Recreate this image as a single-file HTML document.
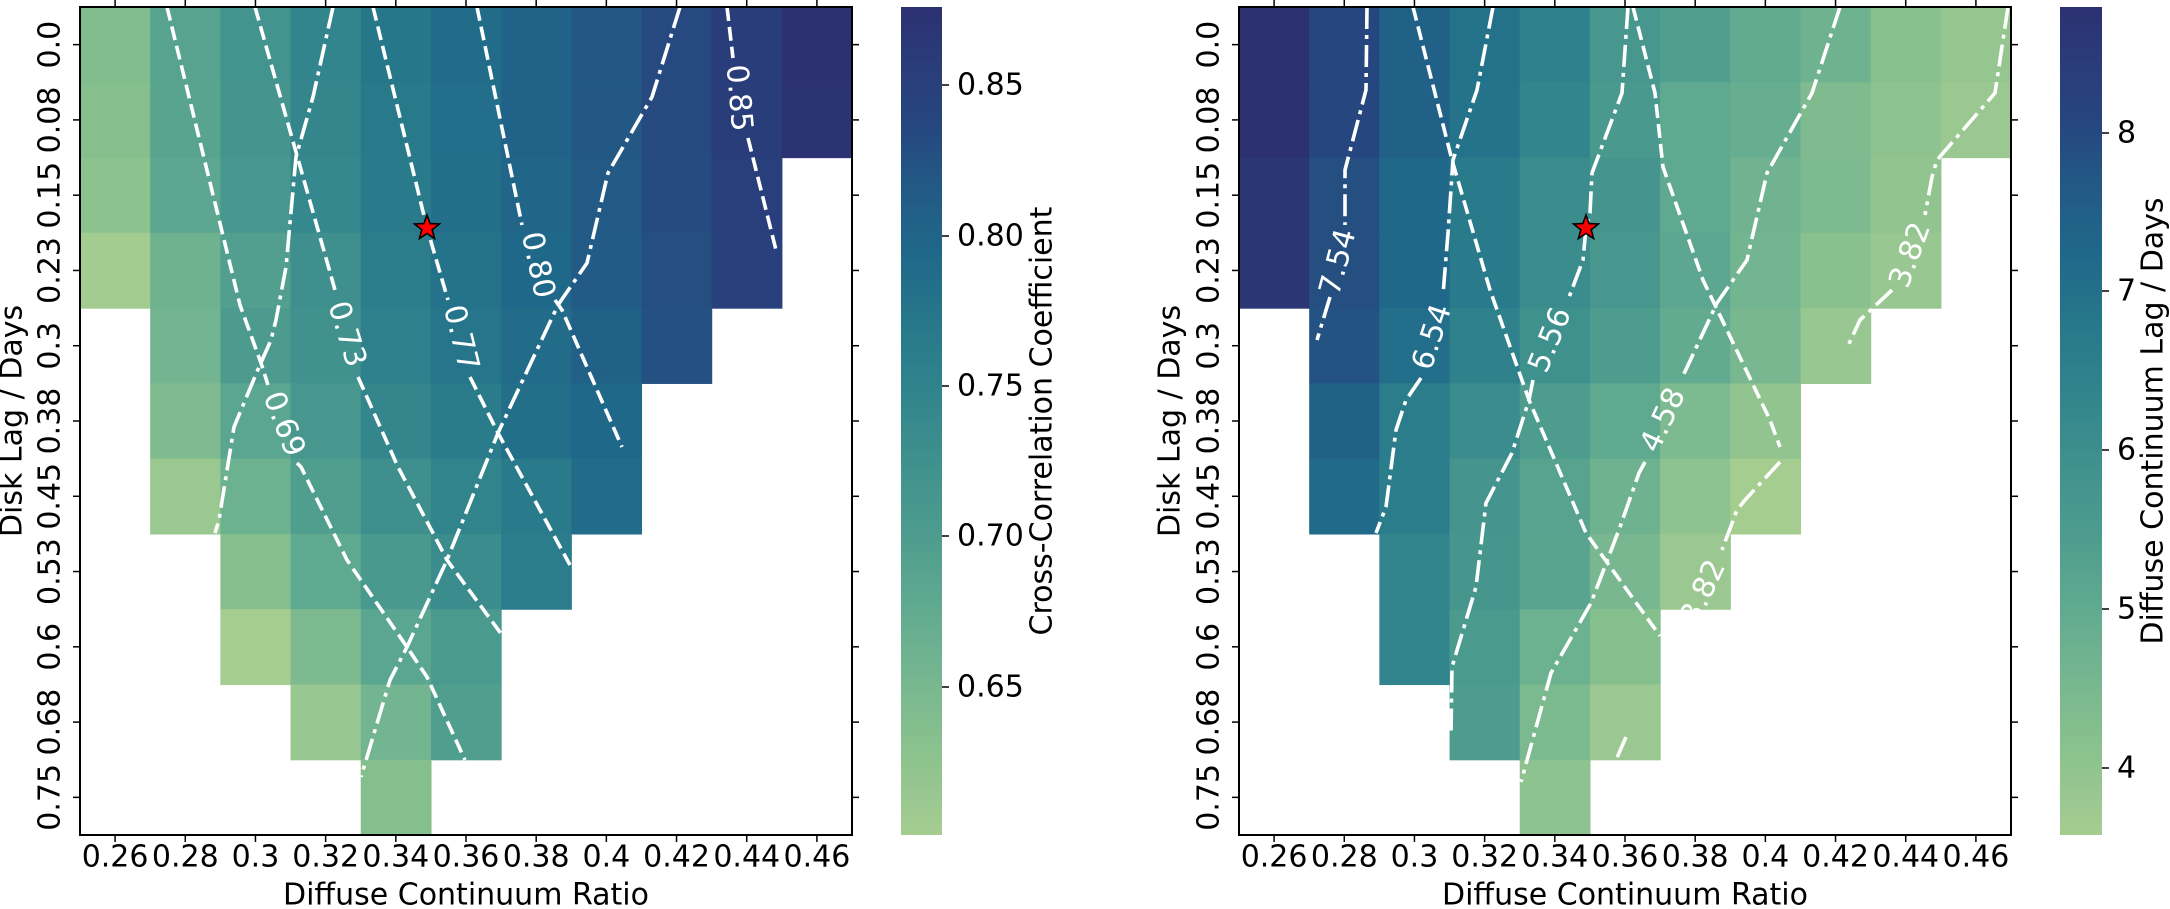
<!DOCTYPE html>
<html><head><meta charset="utf-8">
<style>
html,body{margin:0;padding:0;background:#fff;}
svg{display:block;}
text{font-family:"DejaVu Sans","Liberation Sans",sans-serif;}
</style></head>
<body>
<svg id="s" xmlns="http://www.w3.org/2000/svg" width="2170" height="909" viewBox="0 0 2170 909">
<defs>
<linearGradient id="cm" x1="0" y1="1" x2="0" y2="0">
<stop offset="0" stop-color="#a5cd90"/><stop offset="0.05" stop-color="#99c791"/>
<stop offset="0.1" stop-color="#8bc28e"/><stop offset="0.16" stop-color="#7dba8f"/>
<stop offset="0.22" stop-color="#6eb290"/><stop offset="0.28" stop-color="#5fa990"/>
<stop offset="0.36" stop-color="#4e9c8e"/><stop offset="0.42" stop-color="#45958e"/>
<stop offset="0.48" stop-color="#3a8c8d"/><stop offset="0.55" stop-color="#2f828c"/>
<stop offset="0.62" stop-color="#27778a"/><stop offset="0.7" stop-color="#20688a"/>
<stop offset="0.78" stop-color="#225a85"/><stop offset="0.86" stop-color="#26467f"/>
<stop offset="0.93" stop-color="#2a3c79"/><stop offset="1" stop-color="#2c3172"/>
</linearGradient>
</defs>
<g id="g"></g>
</svg>
<script>
(function(){
var stops=[[0,"#a5cd90"],[0.05,"#99c791"],[0.1,"#8bc28e"],[0.16,"#7dba8f"],[0.22,"#6eb290"],[0.28,"#5fa990"],[0.36,"#4e9c8e"],[0.42,"#45958e"],[0.48,"#3a8c8d"],[0.55,"#2f828c"],[0.62,"#27778a"],[0.7,"#20688a"],[0.78,"#225a85"],[0.86,"#26467f"],[0.93,"#2a3c79"],[1,"#2c3172"]];
function hx(h){return [parseInt(h.substr(1,2),16),parseInt(h.substr(3,2),16),parseInt(h.substr(5,2),16)];}
function cmap(t){t=Math.max(0,Math.min(1,t));for(var i=0;i<stops.length-1;i++){var a=stops[i],b=stops[i+1];if(t<=b[0]){var f=(t-a[0])/(b[0]-a[0]);var A=hx(a[1]),B=hx(b[1]);return "rgb("+A.map(function(v,k){return Math.round(v+(B[k]-v)*f);}).join(",")+")";}}return stops[stops.length-1][1];}
var L=[[.14,.32,.43,.53,.62,.68,.73,.79,.85,.92,1.0],
[.12,.31,.42,.52,.61,.67,.73,.79,.85,.92,.99],
[.10,.29,.40,.51,.60,.66,.72,.78,.84,.91,null],
[.01,.22,.34,.46,.58,.64,.70,.77,.83,.90,null],
[null,.20,.37,.44,.56,.63,.68,.74,.82,null,null],
[null,.15,.30,.40,.52,.59,.66,.70,null,null,null],
[null,.04,.23,.35,.46,.54,.60,.68,null,null,null],
[null,null,.12,.28,.39,.48,.58,null,null,null,null],
[null,null,0.0,.16,.30,.38,null,null,null,null,null],
[null,null,null,.05,.20,.35,null,null,null,null,null],
[null,null,null,null,.12,null,null,null,null,null,null]];
var R=[[1.0,.86,.74,.65,.55,.40,.35,.27,.22,.11,.06],
[1.0,.86,.74,.64,.53,.39,.28,.25,.15,.09,.04],
[.97,.83,.70,.60,.48,.42,.28,.21,.16,.08,null],
[.97,.83,.70,.60,.48,.40,.29,.20,.11,.05,null],
[null,.81,.67,.55,.45,.36,.27,.18,.05,null,null],
[null,.74,.58,.48,.36,.28,.16,.08,null,null,null],
[null,.69,.58,.42,.32,.22,.09,0.0,null,null,null],
[null,null,.54,.41,.31,.18,.04,null,null,null,null],
[null,null,.53,.38,.23,.12,null,null,null,null,null],
[null,null,null,.36,.17,.04,null,null,null,null,null],
[null,null,null,null,.09,null,null,null,null,null,null]];
var out=[];
var top=7,bot=835,rh=(bot-top)/11;
var xt=["0.26","0.28","0.3","0.32","0.34","0.36","0.38","0.4","0.42","0.44","0.46"];
var yt=["0.0","0.08","0.15","0.23","0.3","0.38","0.45","0.53","0.6","0.68","0.75"];
function panel(x0,x1,D){
 var cw=(x1-x0)/11;
 for(var r=0;r<11;r++)for(var c=0;c<11;c++){var v=D[r][c];if(v===null)continue;
  out.push('<rect x="'+(x0+c*cw).toFixed(2)+'" y="'+(top+r*rh).toFixed(2)+'" width="'+(cw+0.6).toFixed(2)+'" height="'+(rh+0.6).toFixed(2)+'" fill="'+cmap(v)+'"/>');}
 return cw;
}
function line(pts,dash){return '<polyline points="'+pts.map(function(p){return p.join(",");}).join(" ")+'" fill="none" stroke="#fff" stroke-width="3.6" stroke-dasharray="'+dash+'"/>';}
var DS="14,6",DD="22,6,4,6";
function lab(x,y,rot,t){return '<text x="'+x+'" y="'+y+'" fill="#fff" font-size="30" text-anchor="middle" dominant-baseline="central" transform="rotate('+rot+' '+x+' '+y+')">'+t+'</text>';}
function star(cx,cy){var p=[];for(var i=0;i<10;i++){var a=-Math.PI/2+i*Math.PI/5;var rr=i%2?5.5:13;p.push((cx+rr*Math.cos(a)).toFixed(1)+","+(cy+rr*Math.sin(a)).toFixed(1));}return '<polygon points="'+p.join(" ")+'" fill="#f00" stroke="#000" stroke-width="1.6"/>';}
function axes(x0,x1,lx){
 var cw=(x1-x0)/11;
 out.push('<rect x="'+x0+'" y="'+top+'" width="'+(x1-x0)+'" height="'+(bot-top)+'" fill="none" stroke="#000" stroke-width="2"/>');
 for(var i=0;i<11;i++){var x=x0+(i+0.5)*cw;var y=top+(i+0.5)*rh;
  out.push('<line x1="'+x+'" y1="'+bot+'" x2="'+x+'" y2="'+(bot+7)+'" stroke="#000" stroke-width="1.5"/>');
  out.push('<line x1="'+x+'" y1="'+top+'" x2="'+x+'" y2="'+(top-7)+'" stroke="#000" stroke-width="1.5"/>');
  out.push('<line x1="'+x0+'" y1="'+y+'" x2="'+(x0-7)+'" y2="'+y+'" stroke="#000" stroke-width="1.5"/>');
  out.push('<line x1="'+x1+'" y1="'+y+'" x2="'+(x1+7)+'" y2="'+y+'" stroke="#000" stroke-width="1.5"/>');
  out.push('<text x="'+x+'" y="'+857+'" font-size="30" text-anchor="middle" dominant-baseline="central">'+xt[i]+'</text>');
  var tx=x0-30;out.push('<text x="'+tx+'" y="'+y+'" font-size="30" text-anchor="middle" dominant-baseline="central" transform="rotate(-90 '+tx+' '+y+')">'+yt[i]+'</text>');
 }
 var cx=(x0+x1)/2;
 out.push('<text x="'+cx+'" y="895" font-size="30" text-anchor="middle" dominant-baseline="central">Diffuse Continuum Ratio</text>');
 var cy=(top+bot)/2;
 out.push('<text x="'+lx+'" y="'+cy+'" font-size="30" text-anchor="middle" dominant-baseline="central" transform="rotate(-90 '+lx+' '+cy+')">Disk Lag / Days</text>');
}
function cbar(x,w,ticks,label,lblx){
 out.push('<rect x="'+x+'" y="'+top+'" width="'+w+'" height="'+(bot-top)+'" fill="url(#cm)"/>');
 ticks.forEach(function(t){out.push('<line x1="'+(x+w)+'" y1="'+t[1]+'" x2="'+(x+w+7)+'" y2="'+t[1]+'" stroke="#000" stroke-width="1.5"/>');
  out.push('<text x="'+(x+w+15)+'" y="'+t[1]+'" font-size="30" dominant-baseline="central">'+t[0]+'</text>');});
 var cy=(top+bot)/2;
 out.push('<text x="'+lblx+'" y="'+cy+'" font-size="30" text-anchor="middle" dominant-baseline="central" transform="rotate(-90 '+lblx+' '+cy+')">'+label+'</text>');
}
// left
panel(80,852,L);
out.push(line([[167,7],[240,305],[261,363],[268,385]],DS));
out.push(line([[297,463],[301,467],[347,560],[407,647],[427,677],[465,760]],DS));
out.push(lab(284,424,69,"0.69"));
out.push(line([[255,7],[335,290]],DS));
out.push(line([[358,377],[398,467],[433,533],[447,560],[502,635]],DS));
out.push(lab(347,334,73,"0.73"));
out.push(line([[373,7],[427,228],[448,300]],DS));
out.push(line([[470,377],[498,433],[570,565]],DS));
out.push(lab(461,338,76,"0.77"));
out.push(line([[477,7],[522,225]],DS));
out.push(line([[555,300],[562,310],[622,447]],DS));
out.push(lab(538,265,78,"0.80"));
out.push(line([[727,7],[733,58]],DS));
out.push(line([[748,138],[776,250]],DS));
out.push(lab(739,98,85,"0.85"));
out.push(line([[333,7],[313,97],[296,157],[286,267],[276,320],[271,340],[259,367],[234,427],[219,520],[215,533]],DD));
out.push(line([[680,7],[652,97],[608,173],[587,263],[558,305],[498,433],[447,560],[407,647],[390,680],[361,777]],DD));
out.push(star(427,228));
axes(80,852,12);
cbar(901,41,[["0.85",85],["0.80",236],["0.75",386],["0.70",536],["0.65",687]],"Cross-Correlation Coefficient",1042);
// right
panel(1239,2011,R);
out.push(line([[1413,7],[1452,160],[1490,290],[1529,400],[1586,533],[1660,636]],DS));
out.push(line([[1633,7],[1655,93],[1663,167],[1703,280],[1770,420],[1780,447]],DS));
out.push(line([[1367,7],[1366,90],[1345,170],[1345,225]],DD));
out.push(line([[1330,297],[1317,340]],DD));
out.push(lab(1338,262,-75,"7.54"));
out.push(line([[1493,7],[1477,90],[1453,160],[1448,233],[1443,295]],DD));
out.push(line([[1421,378],[1406,400],[1396,430],[1386,507],[1376,533]],DD));
out.push(lab(1432,337,-72,"6.54"));
out.push(line([[1628,7],[1622,93],[1592,173],[1590,213],[1586,228],[1583,260],[1568,300]],DD));
out.push(line([[1533,380],[1529,400],[1512,453],[1486,503],[1476,587],[1452,667],[1451,735]],DD));
out.push(lab(1550,340,-68,"5.56"));
out.push(line([[1840,7],[1812,93],[1767,173],[1747,260],[1717,303],[1682,378]],DD));
out.push(line([[1645,462],[1639,473],[1620,527],[1591,603],[1551,673],[1529,753],[1521,782]],DD));
out.push(lab(1663,420,-65,"4.58"));
out.push(line([[2008,7],[1995,93],[1937,160],[1932,177],[1925,215]],DD));
out.push(line([[1892,290],[1860,320],[1847,348]],DD));
out.push(lab(1910,255,-70,"3.82"));
out.push(line([[1780,462],[1745,500],[1737,510],[1722,550]],DD));
out.push(line([[1626,737],[1616,760]],DD));
out.push(lab(1703,592,-65,"3.82"));
out.push(star(1586,228));
axes(1239,2011,1170);
cbar(2060,42,[["8",133],["7",291],["6",450],["5",609],["4",768]],"Diffuse Continuum Lag / Days",2153);
document.getElementById("g").innerHTML=out.join("");
})();
</script>
</body></html>
